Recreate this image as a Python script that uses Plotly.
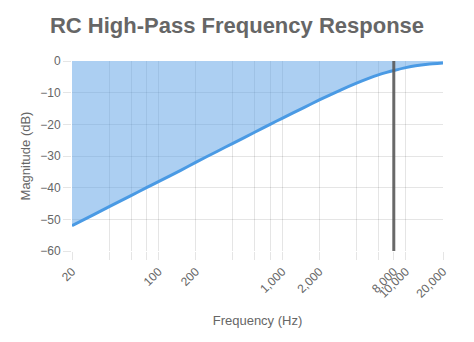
import plotly.graph_objects as go

freq_hz = [20, 30, 40, 60, 80, 100, 150, 200, 300, 400, 600, 800, 1000, 1500, 2000,
           3000, 4000, 5000, 6000, 7000, 8000, 10000, 12000, 15000, 20000]
magnitude_db = [-52.0, -48.5, -46.0, -42.5, -40.0, -38.1, -34.6, -32.0, -28.5, -26.0,
                -22.5, -20.0, -18.1, -14.7, -12.3, -9.1, -7.0, -5.5, -4.4, -3.6,
                -3.0, -2.1, -1.5, -1.0, -0.6]
cutoff_hz = 8000
grid_vals = [20, 40, 60, 80, 100, 200, 400, 600, 800, 1000, 2000, 4000, 6000, 8000, 10000, 20000]
grid_text = ["20", "", "", "", "100", "200", "", "", "", "1,000", "2,000", "", "", "8,000", "10,000", "20,000"]
y_ticks = [0, -10, -20, -30, -40, -50, -60]

font_family = "Liberation Sans, Arial, sans-serif"
grey = "#666666"

fig = go.Figure()
fig.add_trace(go.Scatter(
    x=freq_hz, y=magnitude_db, mode="lines",
    line=dict(color="#4a9ae4", width=3, shape="spline", smoothing=0.6),
    fill="tozeroy", fillcolor="rgba(90,160,230,0.5)",
    hoverinfo="skip", showlegend=False,
))
fig.add_trace(go.Scatter(
    x=[cutoff_hz, cutoff_hz], y=[y_ticks[-1], y_ticks[0]], mode="lines",
    line=dict(color="rgba(90,90,90,0.9)", width=3),
    hoverinfo="skip", showlegend=False,
))

fig.update_layout(
    width=474, height=342,
    margin=dict(l=72, r=31, t=61, b=91),
    paper_bgcolor="white", plot_bgcolor="white",
    font=dict(family=font_family, color=grey, size=12),
    title=dict(text="<b>RC High-Pass Frequency Response</b>", x=0.5, xanchor="center",
               y=0.925, yanchor="middle", font=dict(size=22, color=grey, family=font_family)),
)
fig.update_xaxes(
    type="log", range=[1.30103, 4.30103],
    tickvals=grid_vals, ticktext=grid_text, tickangle=-45,
    showgrid=True, gridcolor="rgba(0,0,0,0.1)", gridwidth=1,
    ticks="outside", ticklen=8, tickcolor="rgba(0,0,0,0.1)",
    zeroline=False, showline=False,
    tickfont=dict(size=12, color=grey),
    title=dict(text="Frequency (Hz)", font=dict(size=13, color=grey), standoff=16),
)
fig.update_yaxes(
    range=[-60, 0], tickvals=y_ticks,
    showgrid=True, gridcolor="rgba(0,0,0,0.1)", gridwidth=1,
    ticks="outside", ticklen=8, tickcolor="rgba(0,0,0,0.1)",
    zeroline=False, showline=False,
    tickfont=dict(size=12, color=grey),
    title=dict(text="Magnitude (dB)", font=dict(size=13, color=grey), standoff=6),
)

fig.write_html("out.html")
